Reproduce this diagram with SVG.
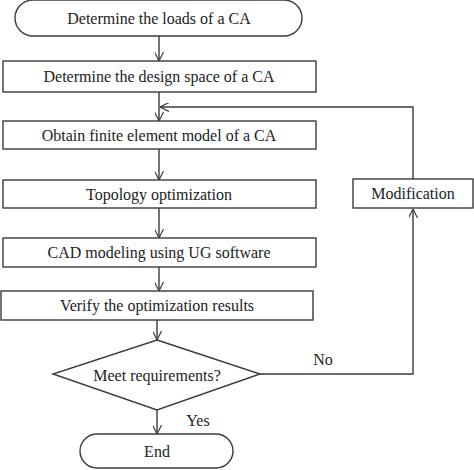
<svg xmlns="http://www.w3.org/2000/svg" width="474" height="470" viewBox="0 0 474 470">
<defs>
<marker id="arr" viewBox="0 0 10 10" refX="10" refY="5" markerWidth="9" markerHeight="9" orient="auto" markerUnits="userSpaceOnUse">
<path d="M0,0 L10,5 L0,10" fill="none" stroke="#3a3a3a" stroke-width="1.3"/>
</marker>
<style>
.n{fill:#fff;stroke:#3a3a3a;stroke-width:1.4}
.t{font-family:"Liberation Serif",serif;font-size:16px;fill:#222;text-anchor:middle;dominant-baseline:central}
.c{fill:none;stroke:#3a3a3a;stroke-width:1.4}
</style>
</defs>
<rect width="474" height="470" fill="#fff"/>
<g id="connectors">
<line class="c" x1="159" y1="36" x2="159" y2="61" marker-end="url(#arr)"/>
<line class="c" x1="159" y1="92" x2="159" y2="121" marker-end="url(#arr)"/>
<line class="c" x1="159" y1="149" x2="159" y2="180" marker-end="url(#arr)"/>
<line class="c" x1="159" y1="208" x2="159" y2="238" marker-end="url(#arr)"/>
<line class="c" x1="159" y1="267" x2="159" y2="291" marker-end="url(#arr)"/>
<line class="c" x1="157" y1="320" x2="157" y2="340" marker-end="url(#arr)"/>
<line class="c" x1="157" y1="410" x2="157" y2="434" marker-end="url(#arr)"/>
<polyline class="c" points="260,374 413,374 413,209" marker-end="url(#arr)"/>
<polyline class="c" points="413,179 413,107 160,107" marker-end="url(#arr)"/>
<text class="t" x="323" y="359">No</text>
<text class="t" x="198" y="420">Yes</text>
</g>
<g id="start">
<rect class="n" x="15" y="0" width="287" height="36" rx="18"/>
<text class="t" x="159" y="18">Determine the loads of a CA</text>
</g>
<g id="design-space">
<rect class="n" x="3" y="61" width="313" height="31"/>
<text class="t" x="159" y="76.5">Determine the design space of a CA</text>
</g>
<g id="fe-model">
<rect class="n" x="3" y="121" width="313" height="28"/>
<text class="t" x="159" y="135">Obtain finite element model of a CA</text>
</g>
<g id="topology">
<rect class="n" x="3" y="180" width="313" height="28"/>
<text class="t" x="159" y="194">Topology optimization</text>
</g>
<g id="cad">
<rect class="n" x="3" y="238" width="313" height="29"/>
<text class="t" x="159" y="252.5">CAD modeling using UG software</text>
</g>
<g id="verify">
<rect class="n" x="1" y="291" width="312" height="29"/>
<text class="t" x="157" y="305.5">Verify the optimization results</text>
</g>
<g id="decision">
<polygon class="n" points="157,340 260,374 157,410 53,374"/>
<text class="t" x="157" y="375">Meet requirements?</text>
</g>
<g id="modification">
<rect class="n" x="353" y="179" width="120" height="29"/>
<text class="t" x="413" y="193.5">Modification</text>
</g>
<g id="end">
<rect class="n" x="80" y="434" width="153" height="34" rx="17"/>
<text class="t" x="157" y="451">End</text>
</g>
</svg>
